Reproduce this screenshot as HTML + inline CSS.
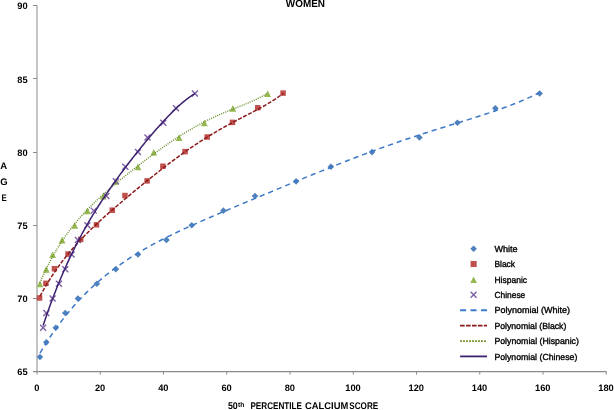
<!DOCTYPE html>
<html><head><meta charset="utf-8"><title>WOMEN</title>
<style>
html,body{margin:0;padding:0;background:#fff;}
svg{display:block;}
text{font-family:"Liberation Sans",sans-serif;fill:#000;text-rendering:geometricPrecision;}
.b{font-weight:bold;}
</style></head><body>
<svg width="614" height="410" viewBox="0 0 614 410">
<rect width="614" height="410" fill="#fff"/>
<g stroke="#8a8a8a" stroke-width="1.2" fill="none">
<line x1="37.0" y1="5.25" x2="37.0" y2="374.60" stroke="#a4a4a4" stroke-width="1.3"/>
<line x1="33.0" y1="371.55" x2="606.55" y2="371.55"/>
<line x1="33.0" y1="298.5" x2="37.0" y2="298.5" stroke-width="1"/>
<line x1="33.0" y1="225.5" x2="37.0" y2="225.5" stroke-width="1"/>
<line x1="33.0" y1="152.5" x2="37.0" y2="152.5" stroke-width="1"/>
<line x1="33.0" y1="78.5" x2="37.0" y2="78.5" stroke-width="1"/>
<line x1="33.0" y1="5.5" x2="37.0" y2="5.5" stroke-width="1"/>
<line x1="100.25" y1="371.60" x2="100.25" y2="374.60" stroke-width="1"/>
<line x1="163.50" y1="371.60" x2="163.50" y2="374.60" stroke-width="1"/>
<line x1="226.75" y1="371.60" x2="226.75" y2="374.60" stroke-width="1"/>
<line x1="290.00" y1="371.60" x2="290.00" y2="374.60" stroke-width="1"/>
<line x1="353.25" y1="371.60" x2="353.25" y2="374.60" stroke-width="1"/>
<line x1="416.50" y1="371.60" x2="416.50" y2="374.60" stroke-width="1"/>
<line x1="479.75" y1="371.60" x2="479.75" y2="374.60" stroke-width="1"/>
<line x1="543.00" y1="371.60" x2="543.00" y2="374.60" stroke-width="1"/>
<line x1="606.25" y1="371.60" x2="606.25" y2="374.60" stroke-width="1"/>
</g>
<text class="b" x="17.30" y="375.30" font-size="9.3" textLength="10.3" lengthAdjust="spacingAndGlyphs">65</text>
<text class="b" x="17.30" y="302.13" font-size="9.3" textLength="10.3" lengthAdjust="spacingAndGlyphs">70</text>
<text class="b" x="17.30" y="228.96" font-size="9.3" textLength="10.3" lengthAdjust="spacingAndGlyphs">75</text>
<text class="b" x="17.30" y="155.79" font-size="9.3" textLength="10.3" lengthAdjust="spacingAndGlyphs">80</text>
<text class="b" x="17.30" y="82.62" font-size="9.3" textLength="10.3" lengthAdjust="spacingAndGlyphs">85</text>
<text class="b" x="17.30" y="9.45" font-size="9.3" textLength="10.3" lengthAdjust="spacingAndGlyphs">90</text>
<text class="b" x="34.22" y="390.55" font-size="9.3" textLength="5.15" lengthAdjust="spacingAndGlyphs">0</text>
<text class="b" x="94.90" y="390.55" font-size="9.3" textLength="10.3" lengthAdjust="spacingAndGlyphs">20</text>
<text class="b" x="158.15" y="390.55" font-size="9.3" textLength="10.3" lengthAdjust="spacingAndGlyphs">40</text>
<text class="b" x="221.40" y="390.55" font-size="9.3" textLength="10.3" lengthAdjust="spacingAndGlyphs">60</text>
<text class="b" x="284.65" y="390.55" font-size="9.3" textLength="10.3" lengthAdjust="spacingAndGlyphs">80</text>
<text class="b" x="345.32" y="390.55" font-size="9.3" textLength="15.450000000000001" lengthAdjust="spacingAndGlyphs">100</text>
<text class="b" x="408.57" y="390.55" font-size="9.3" textLength="15.450000000000001" lengthAdjust="spacingAndGlyphs">120</text>
<text class="b" x="471.82" y="390.55" font-size="9.3" textLength="15.450000000000001" lengthAdjust="spacingAndGlyphs">140</text>
<text class="b" x="535.07" y="390.55" font-size="9.3" textLength="15.450000000000001" lengthAdjust="spacingAndGlyphs">160</text>
<text class="b" x="598.32" y="390.55" font-size="9.3" textLength="15.450000000000001" lengthAdjust="spacingAndGlyphs">180</text>
<text class="b" x="285.8" y="7" font-size="10.4" textLength="39.2" lengthAdjust="spacingAndGlyphs">WOMEN</text>
<text class="b" x="0.2" y="169.4" font-size="9.5">A</text>
<text class="b" x="0.3" y="185.2" font-size="9.5">G</text>
<text class="b" x="1.4" y="200.8" font-size="9.5" textLength="5.2" lengthAdjust="spacingAndGlyphs">E</text>
<text class="b" y="409.45" font-size="9.7"><tspan x="227.9" textLength="9.9" lengthAdjust="spacingAndGlyphs">50</tspan><tspan x="238.1" dy="-2.2" font-size="7" textLength="6.3" lengthAdjust="spacingAndGlyphs">th</tspan><tspan x="250.4" dy="2.2" textLength="51.6" lengthAdjust="spacingAndGlyphs">PERCENTILE</tspan> <tspan x="305.1" textLength="43.2" lengthAdjust="spacingAndGlyphs">CALCIUM</tspan> <tspan x="349.3" textLength="28.9" lengthAdjust="spacingAndGlyphs">SCORE</tspan></text>
<path d="M36.66,356.97 L39.96,353.67 L43.26,356.97 L39.96,360.27Z" fill="#4f81bd"/>
<path d="M42.99,342.33 L46.29,339.03 L49.59,342.33 L46.29,345.63Z" fill="#4f81bd"/>
<path d="M52.48,327.70 L55.77,324.40 L59.07,327.70 L55.77,331.00Z" fill="#4f81bd"/>
<path d="M61.96,313.06 L65.26,309.76 L68.56,313.06 L65.26,316.36Z" fill="#4f81bd"/>
<path d="M74.61,298.43 L77.91,295.13 L81.21,298.43 L77.91,301.73Z" fill="#4f81bd"/>
<path d="M93.59,283.80 L96.89,280.50 L100.19,283.80 L96.89,287.10Z" fill="#4f81bd"/>
<path d="M112.56,269.16 L115.86,265.86 L119.16,269.16 L115.86,272.46Z" fill="#4f81bd"/>
<path d="M134.70,254.53 L138.00,251.23 L141.30,254.53 L138.00,257.83Z" fill="#4f81bd"/>
<path d="M163.16,239.89 L166.46,236.59 L169.76,239.89 L166.46,243.19Z" fill="#4f81bd"/>
<path d="M188.46,225.26 L191.76,221.96 L195.06,225.26 L191.76,228.56Z" fill="#4f81bd"/>
<path d="M220.09,210.63 L223.39,207.33 L226.69,210.63 L223.39,213.93Z" fill="#4f81bd"/>
<path d="M251.71,195.99 L255.01,192.69 L258.31,195.99 L255.01,199.29Z" fill="#4f81bd"/>
<path d="M292.82,181.36 L296.12,178.06 L299.43,181.36 L296.12,184.66Z" fill="#4f81bd"/>
<path d="M327.61,166.72 L330.91,163.42 L334.21,166.72 L330.91,170.02Z" fill="#4f81bd"/>
<path d="M368.73,152.09 L372.03,148.79 L375.33,152.09 L372.03,155.39Z" fill="#4f81bd"/>
<path d="M416.16,137.46 L419.46,134.16 L422.76,137.46 L419.46,140.76Z" fill="#4f81bd"/>
<path d="M454.11,122.82 L457.41,119.52 L460.71,122.82 L457.41,126.12Z" fill="#4f81bd"/>
<path d="M492.06,108.19 L495.36,104.89 L498.66,108.19 L495.36,111.49Z" fill="#4f81bd"/>
<path d="M536.34,93.55 L539.64,90.25 L542.94,93.55 L539.64,96.85Z" fill="#4f81bd"/>
<rect x="36.81" y="295.23" width="5.50" height="5.50" fill="#c0504d"/>
<rect x="43.14" y="280.60" width="5.50" height="5.50" fill="#c0504d"/>
<rect x="51.68" y="265.96" width="5.50" height="5.50" fill="#c0504d"/>
<rect x="65.27" y="251.33" width="5.50" height="5.50" fill="#c0504d"/>
<rect x="77.92" y="236.69" width="5.50" height="5.50" fill="#c0504d"/>
<rect x="93.74" y="222.06" width="5.50" height="5.50" fill="#c0504d"/>
<rect x="109.55" y="207.43" width="5.50" height="5.50" fill="#c0504d"/>
<rect x="122.20" y="192.79" width="5.50" height="5.50" fill="#c0504d"/>
<rect x="144.34" y="178.16" width="5.50" height="5.50" fill="#c0504d"/>
<rect x="160.15" y="163.52" width="5.50" height="5.50" fill="#c0504d"/>
<rect x="182.29" y="148.89" width="5.50" height="5.50" fill="#c0504d"/>
<rect x="204.42" y="134.26" width="5.50" height="5.50" fill="#c0504d"/>
<rect x="229.72" y="119.62" width="5.50" height="5.50" fill="#c0504d"/>
<rect x="255.03" y="104.99" width="5.50" height="5.50" fill="#c0504d"/>
<rect x="280.33" y="90.35" width="5.50" height="5.50" fill="#c0504d"/>
<path d="M36.56,287.30 L39.96,280.70 L43.36,287.30Z" fill="#96b852"/>
<path d="M42.89,272.66 L46.29,266.06 L49.69,272.66Z" fill="#96b852"/>
<path d="M49.21,258.03 L52.61,251.43 L56.01,258.03Z" fill="#96b852"/>
<path d="M58.70,243.39 L62.10,236.79 L65.50,243.39Z" fill="#96b852"/>
<path d="M71.35,228.76 L74.75,222.16 L78.15,228.76Z" fill="#96b852"/>
<path d="M84.00,214.13 L87.40,207.53 L90.80,214.13Z" fill="#96b852"/>
<path d="M99.81,199.49 L103.21,192.89 L106.61,199.49Z" fill="#96b852"/>
<path d="M112.46,184.86 L115.86,178.26 L119.26,184.86Z" fill="#96b852"/>
<path d="M134.60,170.22 L138.00,163.62 L141.40,170.22Z" fill="#96b852"/>
<path d="M150.41,155.59 L153.81,148.99 L157.21,155.59Z" fill="#96b852"/>
<path d="M175.71,140.96 L179.11,134.36 L182.51,140.96Z" fill="#96b852"/>
<path d="M201.01,126.32 L204.41,119.72 L207.81,126.32Z" fill="#96b852"/>
<path d="M229.47,111.69 L232.88,105.09 L236.28,111.69Z" fill="#96b852"/>
<path d="M264.26,97.05 L267.66,90.45 L271.06,97.05Z" fill="#96b852"/>
<path d="M40.12,324.70 L46.12,330.70 M40.12,330.70 L46.12,324.70" stroke="#7d5fa6" stroke-width="1.4" fill="none"/>
<path d="M43.29,310.06 L49.29,316.06 M43.29,316.06 L49.29,310.06" stroke="#7d5fa6" stroke-width="1.4" fill="none"/>
<path d="M49.61,295.43 L55.61,301.43 M49.61,301.43 L55.61,295.43" stroke="#7d5fa6" stroke-width="1.4" fill="none"/>
<path d="M55.94,280.80 L61.94,286.80 M55.94,286.80 L61.94,280.80" stroke="#7d5fa6" stroke-width="1.4" fill="none"/>
<path d="M62.26,266.16 L68.26,272.16 M62.26,272.16 L68.26,266.16" stroke="#7d5fa6" stroke-width="1.4" fill="none"/>
<path d="M68.59,251.53 L74.59,257.53 M68.59,257.53 L74.59,251.53" stroke="#7d5fa6" stroke-width="1.4" fill="none"/>
<path d="M74.91,236.89 L80.91,242.89 M74.91,242.89 L80.91,236.89" stroke="#7d5fa6" stroke-width="1.4" fill="none"/>
<path d="M84.40,222.26 L90.40,228.26 M84.40,228.26 L90.40,222.26" stroke="#7d5fa6" stroke-width="1.4" fill="none"/>
<path d="M90.72,207.63 L96.72,213.63 M90.72,213.63 L96.72,207.63" stroke="#7d5fa6" stroke-width="1.4" fill="none"/>
<path d="M103.38,192.99 L109.38,198.99 M103.38,198.99 L109.38,192.99" stroke="#7d5fa6" stroke-width="1.4" fill="none"/>
<path d="M112.86,178.36 L118.86,184.36 M112.86,184.36 L118.86,178.36" stroke="#7d5fa6" stroke-width="1.4" fill="none"/>
<path d="M122.35,163.72 L128.35,169.72 M122.35,169.72 L128.35,163.72" stroke="#7d5fa6" stroke-width="1.4" fill="none"/>
<path d="M135.00,149.09 L141.00,155.09 M135.00,155.09 L141.00,149.09" stroke="#7d5fa6" stroke-width="1.4" fill="none"/>
<path d="M144.49,134.46 L150.49,140.46 M144.49,140.46 L150.49,134.46" stroke="#7d5fa6" stroke-width="1.4" fill="none"/>
<path d="M160.30,119.82 L166.30,125.82 M160.30,125.82 L166.30,119.82" stroke="#7d5fa6" stroke-width="1.4" fill="none"/>
<path d="M172.95,105.19 L178.95,111.19 M172.95,111.19 L178.95,105.19" stroke="#7d5fa6" stroke-width="1.4" fill="none"/>
<path d="M191.93,90.55 L197.93,96.55 M191.93,96.55 L197.93,90.55" stroke="#7d5fa6" stroke-width="1.4" fill="none"/>
<path d="M39.96,353.08 L44.16,346.20 L48.36,339.65 L52.56,333.40 L56.76,327.46 L60.96,321.79 L65.16,316.38 L69.36,311.23 L73.55,306.32 L77.75,301.64 L81.95,297.17 L86.15,292.90 L90.35,288.83 L94.55,284.93 L98.75,281.21 L102.95,277.64 L107.15,274.23 L111.34,270.96 L115.54,267.82 L119.74,264.80 L123.94,261.90 L128.14,259.10 L132.34,256.41 L136.54,253.81 L140.74,251.29 L144.94,248.85 L149.14,246.49 L153.33,244.19 L157.53,241.96 L161.73,239.78 L165.93,237.65 L170.13,235.57 L174.33,233.54 L178.53,231.54 L182.73,229.57 L186.93,227.64 L191.12,225.73 L195.32,223.85 L199.52,221.99 L203.72,220.15 L207.92,218.32 L212.12,216.51 L216.32,214.71 L220.52,212.92 L224.72,211.14 L228.92,209.37 L233.11,207.60 L237.31,205.84 L241.51,204.08 L245.71,202.32 L249.91,200.57 L254.11,198.82 L258.31,197.07 L262.51,195.32 L266.71,193.57 L270.90,191.82 L275.10,190.08 L279.30,188.34 L283.50,186.59 L287.70,184.85 L291.90,183.12 L296.10,181.38 L300.30,179.65 L304.50,177.92 L308.70,176.20 L312.89,174.49 L317.09,172.78 L321.29,171.07 L325.49,169.38 L329.69,167.69 L333.89,166.01 L338.09,164.35 L342.29,162.69 L346.49,161.05 L350.68,159.42 L354.88,157.80 L359.08,156.20 L363.28,154.61 L367.48,153.04 L371.68,151.48 L375.88,149.94 L380.08,148.41 L384.28,146.90 L388.48,145.41 L392.67,143.94 L396.87,142.48 L401.07,141.04 L405.27,139.61 L409.47,138.21 L413.67,136.81 L417.87,135.44 L422.07,134.08 L426.27,132.73 L430.46,131.39 L434.66,130.07 L438.86,128.75 L443.06,127.44 L447.26,126.14 L451.46,124.84 L455.66,123.55 L459.86,122.25 L464.06,120.95 L468.26,119.65 L472.45,118.33 L476.65,117.01 L480.85,115.66 L485.05,114.30 L489.25,112.91 L493.45,111.50 L497.65,110.05 L501.85,108.56 L506.05,107.03 L510.24,105.45 L514.44,103.81 L518.64,102.11 L522.84,100.35 L527.04,98.51 L531.24,96.59 L535.44,94.58 L539.64,92.47" stroke="#3b78c6" stroke-width="1.5" stroke-dasharray="5.2 4.0" fill="none"/>
<path d="M39.96,296.41 L42.01,292.62 L44.06,288.97 L46.10,285.45 L48.15,282.04 L50.19,278.75 L52.24,275.57 L54.29,272.49 L56.33,269.51 L58.38,266.62 L60.43,263.82 L62.47,261.10 L64.52,258.45 L66.56,255.88 L68.61,253.38 L70.66,250.93 L72.70,248.55 L74.75,246.23 L76.80,243.95 L78.84,241.73 L80.89,239.55 L82.94,237.41 L84.98,235.31 L87.03,233.25 L89.07,231.22 L91.12,229.22 L93.17,227.25 L95.21,225.31 L97.26,223.39 L99.31,221.50 L101.35,219.62 L103.40,217.77 L105.44,215.93 L107.49,214.11 L109.54,212.30 L111.58,210.51 L113.63,208.73 L115.68,206.96 L117.72,205.20 L119.77,203.45 L121.82,201.71 L123.86,199.98 L125.91,198.26 L127.95,196.54 L130.00,194.83 L132.05,193.13 L134.09,191.44 L136.14,189.75 L138.19,188.06 L140.23,186.39 L142.28,184.72 L144.32,183.06 L146.37,181.40 L148.42,179.75 L150.46,178.11 L152.51,176.47 L154.56,174.85 L156.60,173.23 L158.65,171.62 L160.70,170.02 L162.74,168.43 L164.79,166.85 L166.83,165.28 L168.88,163.72 L170.93,162.17 L172.97,160.63 L175.02,159.11 L177.07,157.60 L179.11,156.10 L181.16,154.62 L183.21,153.15 L185.25,151.69 L187.30,150.25 L189.34,148.83 L191.39,147.42 L193.44,146.03 L195.48,144.65 L197.53,143.29 L199.58,141.95 L201.62,140.62 L203.67,139.31 L205.71,138.02 L207.76,136.75 L209.81,135.49 L211.85,134.25 L213.90,133.03 L215.95,131.82 L217.99,130.63 L220.04,129.45 L222.09,128.29 L224.13,127.15 L226.18,126.01 L228.22,124.89 L230.27,123.79 L232.32,122.69 L234.36,121.60 L236.41,120.52 L238.46,119.45 L240.50,118.39 L242.55,117.32 L244.59,116.26 L246.64,115.20 L248.69,114.14 L250.73,113.08 L252.78,112.01 L254.83,110.93 L256.87,109.84 L258.92,108.74 L260.97,107.62 L263.01,106.48 L265.06,105.32 L267.10,104.13 L269.15,102.91 L271.20,101.66 L273.24,100.37 L275.29,99.05 L277.34,97.67 L279.38,96.25 L281.43,94.77 L283.48,93.23" stroke="#8c1a1a" stroke-width="1.5" stroke-dasharray="4 1.6" fill="none"/>
<path d="M39.96,282.72 L41.88,278.33 L43.79,274.11 L45.70,270.06 L47.62,266.16 L49.53,262.41 L51.44,258.81 L53.36,255.34 L55.27,251.99 L57.18,248.77 L59.10,245.66 L61.01,242.67 L62.92,239.77 L64.84,236.97 L66.75,234.27 L68.66,231.65 L70.58,229.11 L72.49,226.65 L74.40,224.26 L76.32,221.95 L78.23,219.69 L80.14,217.49 L82.06,215.35 L83.97,213.26 L85.89,211.23 L87.80,209.23 L89.71,207.28 L91.63,205.37 L93.54,203.49 L95.45,201.65 L97.37,199.84 L99.28,198.06 L101.19,196.31 L103.11,194.58 L105.02,192.87 L106.93,191.19 L108.85,189.53 L110.76,187.88 L112.67,186.25 L114.59,184.64 L116.50,183.04 L118.41,181.46 L120.33,179.88 L122.24,178.32 L124.15,176.77 L126.07,175.23 L127.98,173.71 L129.89,172.19 L131.81,170.68 L133.72,169.18 L135.63,167.68 L137.55,166.20 L139.46,164.72 L141.38,163.26 L143.29,161.80 L145.20,160.35 L147.12,158.91 L149.03,157.48 L150.94,156.06 L152.86,154.65 L154.77,153.25 L156.68,151.86 L158.60,150.48 L160.51,149.11 L162.42,147.75 L164.34,146.41 L166.25,145.08 L168.16,143.76 L170.08,142.46 L171.99,141.17 L173.90,139.90 L175.82,138.64 L177.73,137.39 L179.64,136.16 L181.56,134.95 L183.47,133.76 L185.38,132.58 L187.30,131.43 L189.21,130.29 L191.12,129.16 L193.04,128.06 L194.95,126.98 L196.87,125.91 L198.78,124.87 L200.69,123.84 L202.61,122.83 L204.52,121.84 L206.43,120.87 L208.35,119.92 L210.26,118.99 L212.17,118.07 L214.09,117.17 L216.00,116.29 L217.91,115.42 L219.83,114.57 L221.74,113.74 L223.65,112.91 L225.57,112.10 L227.48,111.30 L229.39,110.51 L231.31,109.73 L233.22,108.95 L235.13,108.18 L237.05,107.41 L238.96,106.64 L240.87,105.87 L242.79,105.10 L244.70,104.32 L246.61,103.53 L248.53,102.73 L250.44,101.92 L252.35,101.08 L254.27,100.23 L256.18,99.36 L258.10,98.45 L260.01,97.52 L261.92,96.54 L263.84,95.53 L265.75,94.48 L267.66,93.37" stroke="#648a22" stroke-width="1.45" stroke-dasharray="0.95 1.25" fill="none"/>
<path d="M43.12,325.60 L44.40,321.77 L45.68,318.01 L46.95,314.31 L48.23,310.68 L49.50,307.11 L50.78,303.61 L52.05,300.17 L53.33,296.78 L54.61,293.46 L55.88,290.19 L57.16,286.98 L58.43,283.83 L59.71,280.73 L60.98,277.68 L62.26,274.68 L63.54,271.73 L64.81,268.83 L66.09,265.97 L67.36,263.17 L68.64,260.40 L69.91,257.68 L71.19,255.01 L72.46,252.37 L73.74,249.78 L75.02,247.22 L76.29,244.71 L77.57,242.23 L78.84,239.78 L80.12,237.37 L81.39,235.00 L82.67,232.65 L83.95,230.34 L85.22,228.06 L86.50,225.81 L87.77,223.59 L89.05,221.40 L90.32,219.23 L91.60,217.09 L92.87,214.98 L94.15,212.89 L95.43,210.83 L96.70,208.78 L97.98,206.76 L99.25,204.76 L100.53,202.78 L101.80,200.83 L103.08,198.89 L104.36,196.97 L105.63,195.06 L106.91,193.18 L108.18,191.31 L109.46,189.45 L110.73,187.62 L112.01,185.79 L113.28,183.98 L114.56,182.19 L115.84,180.41 L117.11,178.64 L118.39,176.88 L119.66,175.14 L120.94,173.41 L122.21,171.69 L123.49,169.98 L124.77,168.28 L126.04,166.59 L127.32,164.91 L128.59,163.24 L129.87,161.58 L131.14,159.93 L132.42,158.29 L133.69,156.65 L134.97,155.03 L136.25,153.42 L137.52,151.81 L138.80,150.22 L140.07,148.63 L141.35,147.05 L142.62,145.48 L143.90,143.92 L145.18,142.37 L146.45,140.83 L147.73,139.29 L149.00,137.77 L150.28,136.26 L151.55,134.75 L152.83,133.26 L154.10,131.78 L155.38,130.31 L156.66,128.85 L157.93,127.40 L159.21,125.96 L160.48,124.54 L161.76,123.13 L163.03,121.74 L164.31,120.36 L165.59,118.99 L166.86,117.64 L168.14,116.30 L169.41,114.99 L170.69,113.69 L171.96,112.40 L173.24,111.14 L174.51,109.90 L175.79,108.68 L177.07,107.48 L178.34,106.30 L179.62,105.15 L180.89,104.02 L182.17,102.92 L183.44,101.84 L184.72,100.80 L186.00,99.78 L187.27,98.79 L188.55,97.83 L189.82,96.91 L191.10,96.02 L192.37,95.17 L193.65,94.35 L194.93,93.57" stroke="#3c2270" stroke-width="1.5" fill="none"/>
<path d="M470.30,248.80 L473.60,245.50 L476.90,248.80 L473.60,252.10Z" fill="#4f81bd"/>
<rect x="470.55" y="260.95" width="6.10" height="6.10" fill="#c0504d"/>
<path d="M470.20,283.10 L473.60,276.50 L477.00,283.10Z" fill="#96b852"/>
<path d="M470.60,291.70 L476.60,297.70 M470.60,297.70 L476.60,291.70" stroke="#7d5fa6" stroke-width="1.4" fill="none"/>
<path d="M460.1,310.25 H487" stroke="#3b7bc9" stroke-width="1.9" stroke-dasharray="6 4.45" fill="none"/>
<path d="M460.1,325.6 H487" stroke="#8c1a1a" stroke-width="1.9" stroke-dasharray="4.6 1.35" fill="none"/>
<path d="M460,341.1 H486" stroke="#7d9c38" stroke-width="1.9" stroke-dasharray="2 1" fill="none"/>
<path d="M460.1,356.4 H487" stroke="#3c2270" stroke-width="1.8" fill="none"/>
<text x="494.4" y="251.60" font-size="8.8" textLength="23.3" lengthAdjust="spacingAndGlyphs" stroke="#000" stroke-width="0.35">White</text>
<text x="494.4" y="267.05" font-size="8.8" textLength="20.7" lengthAdjust="spacingAndGlyphs" stroke="#000" stroke-width="0.35">Black</text>
<text x="494.4" y="282.50" font-size="8.8" textLength="32.7" lengthAdjust="spacingAndGlyphs" stroke="#000" stroke-width="0.35">Hispanic</text>
<text x="494.4" y="297.95" font-size="8.8" textLength="30.9" lengthAdjust="spacingAndGlyphs" stroke="#000" stroke-width="0.35">Chinese</text>
<text x="494.4" y="313.40" font-size="8.8" textLength="75.7" lengthAdjust="spacingAndGlyphs" stroke="#000" stroke-width="0.35">Polynomial (White)</text>
<text x="494.4" y="328.85" font-size="8.8" textLength="71.9" lengthAdjust="spacingAndGlyphs" stroke="#000" stroke-width="0.35">Polynomial (Black)</text>
<text x="494.4" y="344.30" font-size="8.8" textLength="84.5" lengthAdjust="spacingAndGlyphs" stroke="#000" stroke-width="0.35">Polynomial (Hispanic)</text>
<text x="494.4" y="359.75" font-size="8.8" textLength="82.9" lengthAdjust="spacingAndGlyphs" stroke="#000" stroke-width="0.35">Polynomial (Chinese)</text>
</svg></body></html>
